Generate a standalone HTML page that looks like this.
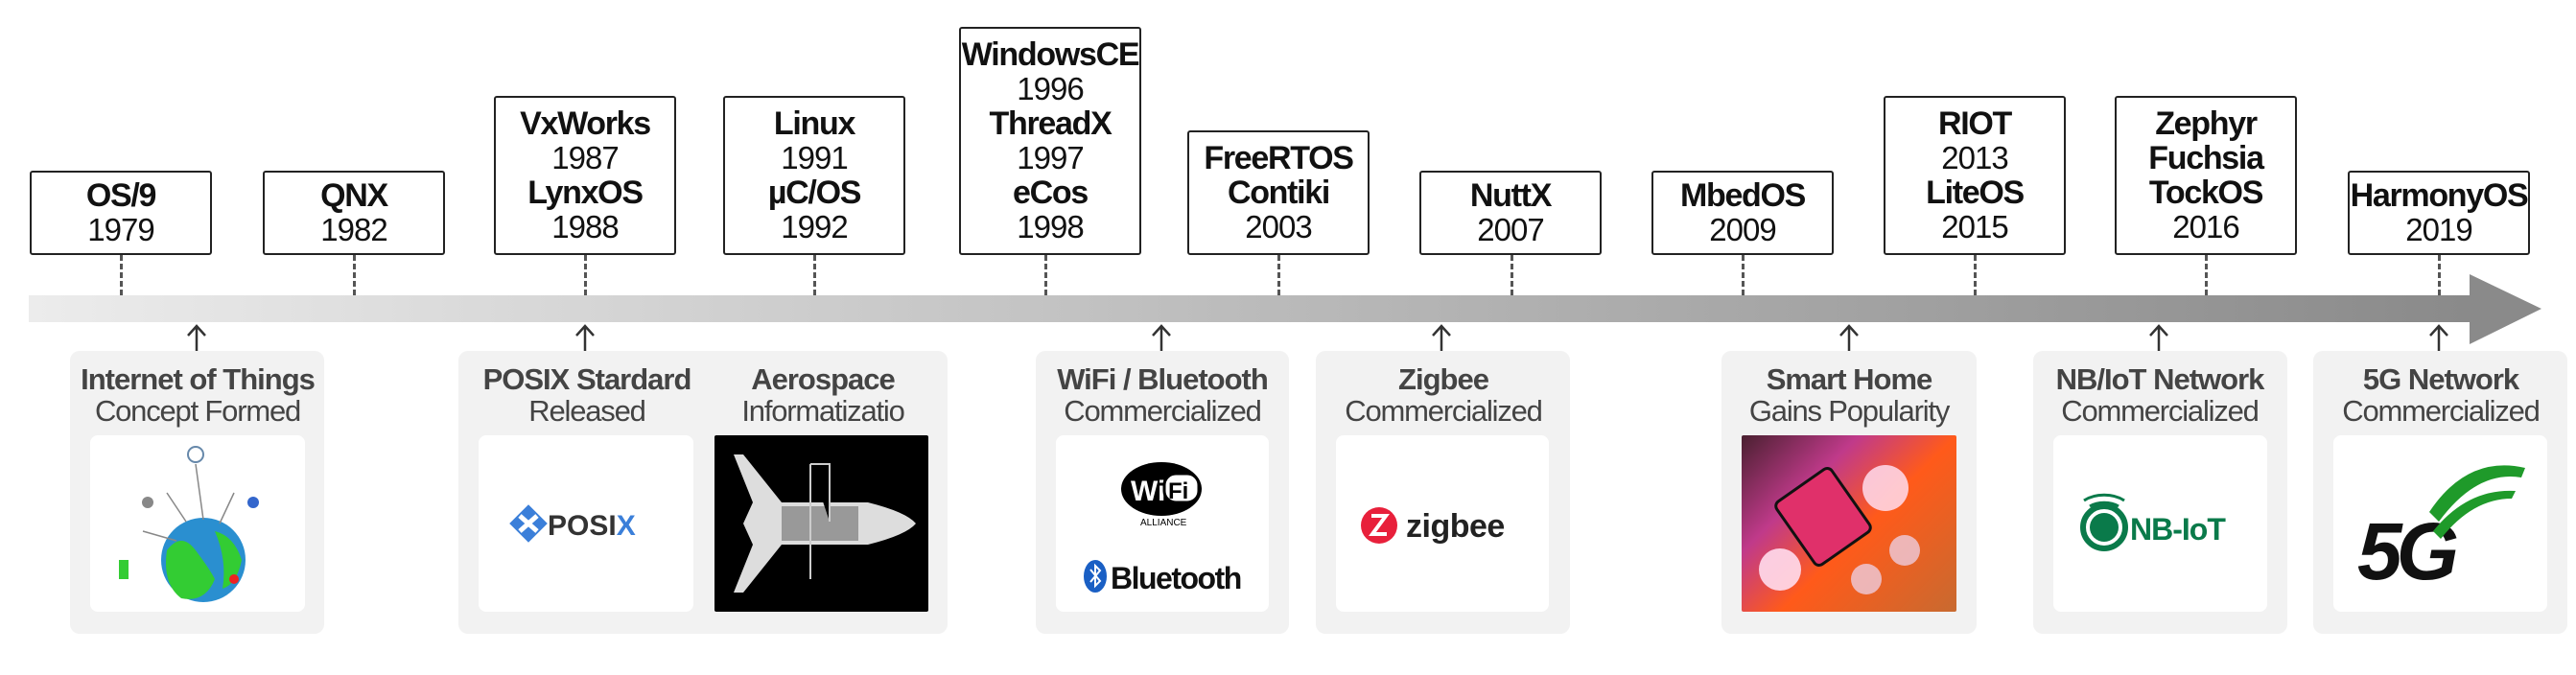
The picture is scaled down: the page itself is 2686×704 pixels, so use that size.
<!DOCTYPE html>
<html><head><meta charset="utf-8"><style>
body{margin:0;width:2686px;height:704px;background:#fff;position:relative;overflow:hidden;font-family:"Liberation Sans",sans-serif}
.box{position:absolute;border:2px solid #222;border-radius:3px;box-sizing:border-box;display:flex;flex-direction:column;justify-content:center;align-items:center;background:#fff;width:190px}
.box div{line-height:36px;font-size:33px;color:#111;letter-spacing:-1px;white-space:nowrap}
.box b{display:block;line-height:36px;font-size:34px;letter-spacing:-1.3px;color:#111;white-space:nowrap}
.dash{position:absolute;top:266px;height:42px;border-left:3px dashed #555;width:0}
.panel{position:absolute;top:366px;height:295px;background:#f2f2f2;border-radius:10px}
.t{position:absolute;top:379px;text-align:center;color:#444;white-space:nowrap;transform:translateX(-50%)}
.t b{display:block;font-size:31px;line-height:33px;letter-spacing:-1px}
.t span{display:block;font-size:31px;line-height:33px;letter-spacing:-1.2px}
.img{position:absolute;top:454px;height:184px;background:#fff;border-radius:8px;overflow:hidden}
</style></head><body>
<svg style="position:absolute;left:0;top:0" width="2686" height="704">
<defs><linearGradient id="g" x1="0" x2="1"><stop offset="0" stop-color="#ececec"/><stop offset="1" stop-color="#8a8a8a"/></linearGradient></defs>
<rect x="30" y="308" width="2546" height="28" fill="url(#g)"/>
<polygon points="2575,286 2650,322 2575,359" fill="#8a8a8a"/>
</svg>

<div class="box" style="left:31px;top:178px;height:88px"><b>OS/9</b><div>1979</div></div>
<div class="box" style="left:274px;top:178px;height:88px"><b>QNX</b><div>1982</div></div>
<div class="box" style="left:515px;top:100px;height:166px"><b>VxWorks</b><div>1987</div><b>LynxOS</b><div>1988</div></div>
<div class="box" style="left:754px;top:100px;height:166px"><b>Linux</b><div>1991</div><b>µC/OS</b><div>1992</div></div>
<div class="box" style="left:1000px;top:28px;height:238px"><b>WindowsCE</b><div>1996</div><b>ThreadX</b><div>1997</div><b>eCos</b><div>1998</div></div>
<div class="box" style="left:1238px;top:136px;height:130px"><b>FreeRTOS</b><b>Contiki</b><div>2003</div></div>
<div class="box" style="left:1480px;top:178px;height:88px"><b>NuttX</b><div>2007</div></div>
<div class="box" style="left:1722px;top:178px;height:88px"><b>MbedOS</b><div>2009</div></div>
<div class="box" style="left:1964px;top:100px;height:166px"><b>RIOT</b><div>2013</div><b>LiteOS</b><div>2015</div></div>
<div class="box" style="left:2205px;top:100px;height:166px"><b>Zephyr</b><b>Fuchsia</b><b>TockOS</b><div>2016</div></div>
<div class="box" style="left:2448px;top:178px;height:88px"><b>HarmonyOS</b><div>2019</div></div>

<div class="dash" style="left:125px"></div><div class="dash" style="left:368px"></div><div class="dash" style="left:609px"></div><div class="dash" style="left:848px"></div><div class="dash" style="left:1089px"></div><div class="dash" style="left:1332px"></div><div class="dash" style="left:1575px"></div><div class="dash" style="left:1816px"></div><div class="dash" style="left:2058px"></div><div class="dash" style="left:2299px"></div><div class="dash" style="left:2542px"></div>

<svg style="position:absolute;left:0;top:0" width="2686" height="704" fill="none" stroke="#333" stroke-width="2.5">
<path d="M205 366V340M196 350L205 340L214 350"/>
<path d="M610 366V340M601 350L610 340L619 350"/>
<path d="M1211 366V340M1202 350L1211 340L1220 350"/>
<path d="M1503 366V340M1494 350L1503 340L1512 350"/>
<path d="M1928 366V340M1919 350L1928 340L1937 350"/>
<path d="M2251 366V340M2242 350L2251 340L2260 350"/>
<path d="M2543 366V340M2534 350L2543 340L2552 350"/>
</svg>

<div class="panel" style="left:73px;width:265px"></div>
<div class="panel" style="left:478px;width:510px"></div>
<div class="panel" style="left:1080px;width:264px"></div>
<div class="panel" style="left:1372px;width:265px"></div>
<div class="panel" style="left:1795px;width:266px"></div>
<div class="panel" style="left:2120px;width:265px"></div>
<div class="panel" style="left:2412px;width:265px"></div>

<div class="t" style="left:206px"><b>Internet of Things</b><span>Concept Formed</span></div>
<div class="t" style="left:612px"><b>POSIX Stardard</b><span>Released</span></div>
<div class="t" style="left:858px"><b>Aerospace</b><span>Informatizatio</span></div>
<div class="t" style="left:1212px"><b>WiFi / Bluetooth</b><span>Commercialized</span></div>
<div class="t" style="left:1505px"><b>Zigbee</b><span>Commercialized</span></div>
<div class="t" style="left:1928px"><b>Smart Home</b><span>Gains Popularity</span></div>
<div class="t" style="left:2252px"><b>NB/IoT Network</b><span>Commercialized</span></div>
<div class="t" style="left:2545px"><b>5G Network</b><span>Commercialized</span></div>

<div class="img" style="left:94px;width:224px"><svg width="224" height="184">
<circle cx="118" cy="130" r="44" fill="#2a8fd0"/><path d="M80 120q15-20 30 0t20 30q-10 25-35 20q-20-15-15-50z" fill="#3c3"/><path d="M130 100q20 5 28 30q-5 25-20 30q5-30-8-60z" fill="#3c3"/>
<circle cx="110" cy="20" r="8" fill="none" stroke="#68a" stroke-width="2"/><rect x="30" y="130" width="10" height="20" fill="#3c3"/><circle cx="170" cy="70" r="6" fill="#36c"/><circle cx="60" cy="70" r="6" fill="#888"/><circle cx="150" cy="150" r="5" fill="#e22"/>
<path d="M118 88L110 30M100 90L80 60M135 92L150 60M90 110L55 100" stroke="#888" stroke-width="1.5" fill="none"/></svg></div>
<div class="img" style="left:499px;width:224px"><svg width="224" height="184"><g transform="translate(52,92) rotate(45)"><rect x="-14" y="-14" width="28" height="28" fill="#3b7fd9"/></g><path d="M43 84l18 16M61 84l-18 16" stroke="#fff" stroke-width="5"/><text x="72" y="104" font-family="Liberation Sans" font-weight="bold" font-size="30" fill="#333">POSI<tspan fill="#3b7fd9">X</tspan></text></svg></div>
<div class="img" style="left:745px;width:223px;background:#000;border-radius:2px"><svg width="223" height="184"><path d="M30 20L70 70L160 70Q200 80 210 92Q200 104 160 114L70 114L30 164L20 164L40 114L30 92L40 70L20 20Z" fill="#ddd"/><rect x="70" y="74" width="80" height="36" fill="#999"/><path d="M100 30V150M100 30H120V90" stroke="#ccc" stroke-width="2"/></svg></div>
<div class="img" style="left:1101px;width:222px"><svg width="222" height="184"><ellipse cx="110" cy="56" rx="42" ry="28" fill="#000"/><text x="78" y="68" font-family="Liberation Sans" font-weight="bold" font-size="30" fill="#fff">Wi</text><rect x="113" y="40" width="36" height="30" rx="12" fill="#fff" stroke="#000" stroke-width="3"/><text x="117" y="66" font-family="Liberation Sans" font-weight="bold" font-size="24" fill="#000">Fi</text><text x="88" y="94" font-family="Liberation Sans" font-size="10" fill="#000">ALLIANCE</text><ellipse cx="41" cy="147" rx="12" ry="17" fill="#1a5fc4"/><path d="M36 140l10 12-5 5V136l5 5-10 12" stroke="#fff" stroke-width="2" fill="none"/><text x="57" y="160" font-family="Liberation Sans" font-weight="bold" font-size="32" letter-spacing="-1.5" fill="#111">Bluetooth</text></svg></div>
<div class="img" style="left:1393px;width:222px"><svg width="222" height="184"><circle cx="45" cy="94" r="19" fill="#e8203b"/><path d="M37 84h15l-14 19h15" stroke="#fff" stroke-width="4" fill="none"/><text x="73" y="106" font-family="Liberation Sans" font-weight="bold" font-size="34" letter-spacing="-0.5" fill="#222">zigbee</text></svg></div>
<div class="img" style="left:1816px;width:224px;border-radius:2px;background:linear-gradient(135deg,#4a2030 0%,#c03a8a 30%,#ff5a1a 55%,#c86a30 100%)"><svg width="224" height="184"><circle cx="40" cy="140" r="22" fill="#fde" opacity=".9"/><circle cx="150" cy="55" r="24" fill="#fde" opacity=".85"/><circle cx="170" cy="120" r="16" fill="#ecd" opacity=".8"/><circle cx="130" cy="150" r="16" fill="#ecd" opacity=".8"/><rect x="50" y="45" width="70" height="80" rx="6" transform="rotate(-35 85 85)" fill="#e0306a" stroke="#111" stroke-width="3"/></svg></div>
<div class="img" style="left:2141px;width:223px"><svg width="223" height="184"><circle cx="53" cy="96" r="22" fill="none" stroke="#0a7a4a" stroke-width="6"/><circle cx="53" cy="96" r="15" fill="#0a7a4a"/><path d="M32 68a30 20 0 0 1 42 0M38 74a22 14 0 0 1 30 0" stroke="#0a7a4a" stroke-width="3" fill="none"/><text x="80" y="109" font-family="Liberation Sans" font-weight="bold" font-size="32" letter-spacing="-1" fill="#0a7a4a">NB-IoT</text></svg></div>
<div class="img" style="left:2433px;width:223px"><svg width="223" height="184"><text x="25" y="150" font-family="Liberation Sans" font-weight="bold" font-style="italic" font-size="84" letter-spacing="-6" fill="#111">5G</text><path d="M100 80Q140 20 200 34L196 44Q150 36 110 90ZM104 100Q140 55 190 58L186 66Q145 66 112 108Z" fill="#1f9a2a"/></svg></div>
</body></html>
